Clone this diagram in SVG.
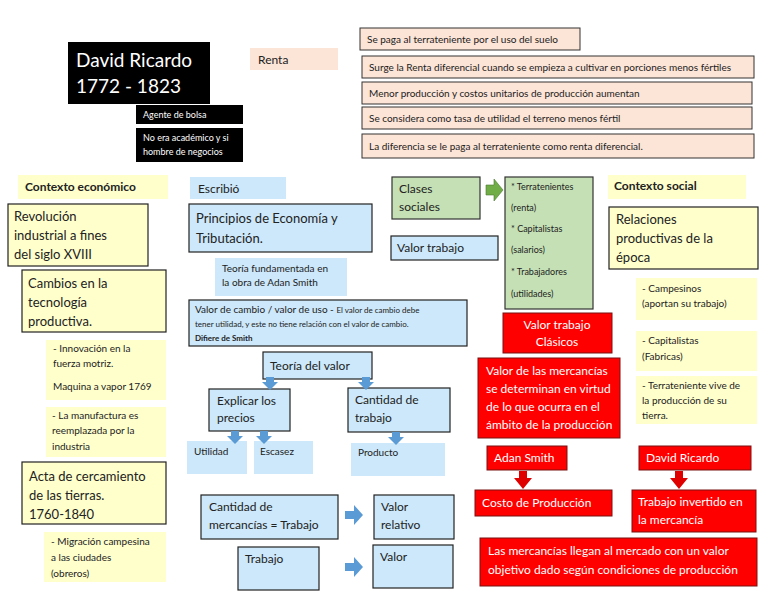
<svg xmlns="http://www.w3.org/2000/svg" width="768" height="594" viewBox="0 0 768 594">
<style>
text{font-family:Lato,"Open Sans","Liberation Sans",sans-serif;fill:#222}
.bk{fill:#000}.bk+text,.w{fill:#fff}
.pe{fill:#fce4d6;stroke:#333;stroke-width:1}
.pn{fill:#fce4d6}
.yb{fill:#ffffcc;stroke:#222;stroke-width:1.2}
.yn{fill:#ffffcc}
.bb{fill:#cce8fa;stroke:#222;stroke-width:1.2}
.bn{fill:#cce8fa}
.gb{fill:#c5e0b4;stroke:#333;stroke-width:1.2}
.rd{fill:#ff0000;stroke:#7a1010;stroke-width:1}
.s9{font-size:9px}.s10{font-size:10px}.s11{font-size:11px}.s12{font-size:12px}.s13{font-size:13px}.s15{font-size:15px}
.b{font-weight:bold}
.ba{fill:#5b9bd5}.ga{fill:#70ad47}.ra{fill:#e00000}
</style>
<rect width="768" height="594" fill="#fff"/>
<g id="title"><rect class="bk" x="68" y="42" width="142" height="62"/><text class="w" x="76" y="67" font-size="19" style="fill:#fff">David Ricardo</text><text x="76" y="93" font-size="19" style="fill:#fff">1772 - 1823</text></g>
<g id="agente"><rect class="bk" x="136" y="105" width="107" height="19"/><text class="s9" x="143" y="118" style="fill:#fff">Agente de bolsa</text></g>
<g id="noacad"><rect class="bk" x="136" y="128" width="107" height="34"/><text class="s9" x="143" y="141" style="fill:#fff">No era académico y si</text><text class="s9" x="143" y="155" style="fill:#fff">hombre de negocios</text></g>
<g id="renta"><rect class="pn" x="250" y="48" width="88" height="22"/><text class="s12" x="258" y="64">Renta</text></g>
<g id="r1"><rect class="pe" x="360" y="28" width="220" height="22"/><text class="s10" x="367" y="43">Se paga al terrateniente por el uso del suelo</text></g>
<g id="r2"><rect class="pe" x="362" y="56" width="392" height="22"/><text class="s10" x="369" y="71">Surge la Renta diferencial cuando se empieza a cultivar en porciones menos fértiles</text></g>
<g id="r3"><rect class="pe" x="362" y="82" width="390" height="22"/><text class="s10" x="369" y="97">Menor producción y costos unitarios de producción aumentan</text></g>
<g id="r4"><rect class="pe" x="362" y="107" width="390" height="22"/><text class="s10" x="369" y="122">Se considera como tasa de utilidad el terreno menos fértil</text></g>
<g id="r5"><rect class="pe" x="362" y="134" width="392" height="24"/><text class="s10" x="369" y="150">La diferencia se le paga al terrateniente como renta diferencial.</text></g>

<g id="ctxeco"><rect class="yn" x="18" y="175" width="150" height="24"/><text class="s12 b" x="25" y="191">Contexto económico</text></g>
<g id="revol"><rect class="yb" x="8" y="204" width="140" height="62"/><text class="s13" x="14" y="221">Revolución</text><text class="s13" x="14" y="240">industrial a fines</text><text class="s13" x="14" y="259">del siglo XVIII</text></g>
<g id="cambios"><rect class="yb" x="22" y="270" width="144" height="62"/><text class="s13" x="28" y="288">Cambios en la</text><text class="s13" x="28" y="307">tecnología</text><text class="s13" x="28" y="326">productiva.</text></g>
<g id="innov"><rect class="yn" x="46" y="340" width="120" height="60"/><text class="s10" x="53" y="352">- Innovación en la</text><text class="s10" x="53" y="367">fuerza motriz.</text><text class="s10" x="53" y="390">Maquina a vapor 1769</text></g>
<g id="manuf"><rect class="yn" x="46" y="407" width="120" height="50"/><text class="s10" x="52" y="419">- La manufactura es</text><text class="s10" x="52" y="434">reemplazada por la</text><text class="s10" x="52" y="450">industria</text></g>
<g id="acta"><rect class="yb" x="22" y="462" width="144" height="62"/><text class="s13" x="29" y="481">Acta de cercamiento</text><text class="s13" x="29" y="500">de las tierras.</text><text class="s13" x="29" y="519">1760-1840</text></g>
<g id="migra"><rect class="yn" x="44" y="532" width="122" height="50"/><text class="s10" x="51" y="545">- Migración campesina</text><text class="s10" x="51" y="561">a las ciudades</text><text class="s10" x="51" y="577">(obreros)</text></g>

<g id="escribio"><rect class="bn" x="190" y="177" width="96" height="22"/><text class="s12" x="198" y="193">Escribió</text></g>
<g id="principios"><rect class="bb" x="189" y="204" width="183" height="48"/><text class="s13" x="196" y="223">Principios de Economía y</text><text class="s13" x="196" y="243">Tributación.</text></g>
<g id="teofund"><rect class="bn" x="215" y="258" width="132" height="38"/><text class="s10" x="222" y="272">Teoría fundamentada en</text><text class="s10" x="222" y="286">la obra de Adan Smith</text></g>
<g id="vcambio"><rect class="bb" x="189" y="300" width="278" height="46"/><text class="s10" x="195" y="313">Valor de cambio / valor de uso - <tspan font-size="8">El valor de cambio debe</tspan></text><text x="195" y="327" font-size="8">tener utilidad, y este no tiene relación con el valor de cambio.</text><text x="195" y="341" font-size="8" font-weight="bold">Difiere de Smith</text></g>
<g id="teovalor"><rect class="bb" x="263" y="352" width="109" height="27"/><text class="s12" x="270" y="370">Teoría del valor</text></g>
<g id="explicar"><rect class="bb" x="209" y="389" width="81" height="42"/><text class="s12" x="217" y="405">Explicar los</text><text class="s12" x="217" y="422">precios</text></g>
<g id="cantrab"><rect class="bb" x="348" y="388" width="102" height="44"/><text class="s12" x="355" y="404">Cantidad de</text><text class="s12" x="355" y="422">trabajo</text></g>
<g id="utilidad"><rect class="bn" x="187" y="441" width="60" height="33"/><text class="s10" x="194" y="455">Utilidad</text></g>
<g id="escasez"><rect class="bn" x="254" y="441" width="59" height="33"/><text class="s10" x="260" y="455">Escasez</text></g>
<g id="producto"><rect class="bn" x="351" y="443" width="94" height="33"/><text class="s10" x="358" y="456">Producto</text></g>
<g id="cantmerc"><rect class="bb" x="201" y="495" width="137" height="44"/><text class="s12" x="209" y="511">Cantidad de</text><text class="s12" x="209" y="529">mercancías = Trabajo</text></g>
<g id="vrel"><rect class="bb" x="374" y="495" width="80" height="44"/><text class="s12" x="381" y="511">Valor</text><text class="s12" x="381" y="529">relativo</text></g>
<g id="trabajo"><rect class="bb" x="238" y="547" width="81" height="43"/><text class="s12" x="245" y="563">Trabajo</text></g>
<g id="valor"><rect class="bb" x="373" y="545" width="80" height="43"/><text class="s12" x="380" y="561">Valor</text></g>

<g id="clases"><rect class="gb" x="392" y="177" width="88" height="42"/><text class="s12" x="399" y="193">Clases</text><text class="s12" x="399" y="211">sociales</text></g>
<g id="lista"><rect class="gb" x="505" y="177" width="88" height="132"/><text class="s9" x="511" y="190">* Terratenientes</text><text class="s9" x="511" y="211">(renta)</text><text class="s9" x="511" y="232">* Capitalistas</text><text class="s9" x="511" y="253">(salarios)</text><text class="s9" x="511" y="275">* Trabajadores</text><text class="s9" x="511" y="297">(utilidades)</text></g>
<g id="vtrab"><rect class="bb" x="391" y="236" width="107" height="24"/><text class="s12" x="397" y="252">Valor trabajo</text></g>
<g id="ctxsoc"><rect class="yn" x="608" y="175" width="138" height="24"/><text class="s12 b" x="614" y="190">Contexto social</text></g>
<g id="relac"><rect class="yb" x="609" y="207" width="149" height="62"/><text class="s13" x="616" y="224">Relaciones</text><text class="s13" x="616" y="243">productivas de la</text><text class="s13" x="616" y="262">época</text></g>
<g id="campes"><rect class="yn" x="636" y="278" width="121" height="42"/><text class="s10" x="642" y="292">- Campesinos</text><text class="s10" x="642" y="307">(aportan su trabajo)</text></g>
<g id="capit"><rect class="yn" x="636" y="331" width="121" height="40"/><text class="s10" x="642" y="344">- Capitalistas</text><text class="s10" x="642" y="360">(Fabricas)</text></g>
<g id="terrat"><rect class="yn" x="636" y="376" width="121" height="48"/><text class="s10" x="642" y="389">- Terrateniente vive de</text><text class="s10" x="642" y="404">la producción de su</text><text class="s10" x="642" y="419">tierra.</text></g>

<g id="vtclas"><rect class="rd" x="503" y="313" width="109" height="40"/><text class="s12" x="557" y="329" text-anchor="middle" style="fill:#fff">Valor trabajo</text><text class="s12" x="557" y="346" text-anchor="middle" style="fill:#fff">Clásicos</text></g>
<g id="vmerc"><rect class="rd" x="478" y="358" width="142" height="80"/><text class="s12" x="486" y="375" style="fill:#fff">Valor de las mercancías</text><text class="s12" x="486" y="393" style="fill:#fff">se determinan en virtud</text><text class="s12" x="486" y="411" style="fill:#fff">de lo que ocurra en el</text><text class="s12" x="486" y="429" style="fill:#fff">ámbito de la producción</text></g>
<g id="adan"><rect class="rd" x="487" y="446" width="80" height="24"/><text class="s12" x="494" y="462" style="fill:#fff">Adan Smith</text></g>
<g id="costo"><rect class="rd" x="475" y="490" width="137" height="26"/><text class="s12" x="482" y="507" style="fill:#fff">Costo de Producción</text></g>
<g id="dr"><rect class="rd" x="639" y="446" width="112" height="24"/><text class="s12" x="646" y="462" style="fill:#fff">David Ricardo</text></g>
<g id="tinv"><rect class="rd" x="632" y="490" width="124" height="42"/><text class="s12" x="638" y="506" style="fill:#fff">Trabajo invertido en</text><text class="s12" x="638" y="524" style="fill:#fff">la mercancía</text></g>
<g id="llegan"><rect class="rd" x="480" y="538" width="277" height="48"/><text class="s12" x="488" y="555" style="fill:#fff">Las mercancías llegan al mercado con un valor</text><text class="s12" x="488" y="574" style="fill:#fff">objetivo dado según condiciones de producción</text></g>

<g id="connectors">
<path class="ba" d="M266 377h8v5h4l-8 8-8-8h4z"/>
<path class="ba" d="M362 377h8v5h4l-8 8-8-8h4z"/>
<path class="ba" d="M231 431h8v5h4l-8 8-8-8h4z"/>
<path class="ba" d="M260 431h8v5h4l-8 8-8-8h4z"/>
<path class="ba" d="M392 432h8v5h4l-8 8-8-8h4z"/>
<path class="ba" d="M345 511h9v-6l9 10-9 10v-6h-9z"/>
<path class="ba" d="M345 563h9v-6l9 10-9 10v-6h-9z"/>
<path class="ga" d="M486 185h8v-6l9 11-9 11v-6h-8z" stroke="#4a7a30" stroke-width="0.6"/>
<path class="ra" d="M519 471h8v7h5l-9 11-9-11h5z"/>
<path class="ra" d="M675 471h8v7h5l-9 11-9-11h5z"/>
</g>
</svg>
